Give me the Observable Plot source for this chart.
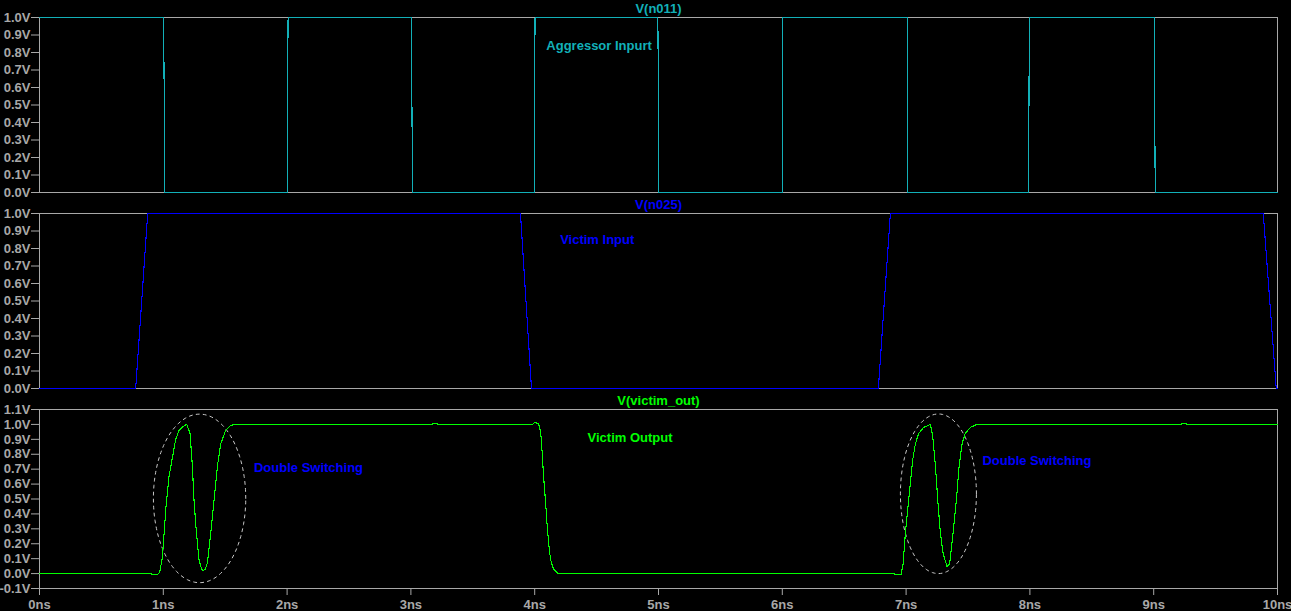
<!DOCTYPE html>
<html><head><meta charset="utf-8">
<script src="https://cdn.jsdelivr.net/npm/d3@7"></script>
<script src="https://cdn.jsdelivr.net/npm/@observablehq/plot@0.6"></script>
<style>
html,body{margin:0;padding:0;background:#000;}
body{width:1291px;height:611px;overflow:hidden;position:relative;}
.pane{position:absolute;left:0;}
.pane svg{overflow:visible;}
</style></head><body>
<div id="p1" class="pane" style="top:0px"></div>
<div id="p2" class="pane" style="top:196px"></div>
<div id="p3" class="pane" style="top:392px"></div>
<script>
// ---- data ----
const paneTitles = ["V(n011)", "V(n025)", "V(victim_out)"];
const traceColors = ["#12b0b8", "#0000ff", "#00ff00"];

// Aggressor input V(n011): time (ns), voltage (V)
const aggT = [0, 1.003, 1.012, 2.0, 2.008, 3.005, 3.012, 3.995, 4.003, 4.995, 5.003, 6.0, 6.005, 7.01, 7.015, 7.99, 7.995, 9.005, 9.012, 10];
const aggV = [1, 1, 0, 0, 1, 1, 0, 0, 1, 1, 0, 0, 1, 1, 0, 0, 1, 1, 0, 0];

// Victim input V(n025)
const vinT = [0, 0.777, 0.874, 3.885, 3.974, 6.776, 6.873, 9.885, 9.99, 10];
const vinV = [0, 0, 1, 1, 0, 0, 1, 1, 0, 0];

// Victim output V(victim_out)
const voutT = [0, 0.9, 0.91, 0.955, 0.971, 0.993, 1.02, 1.046, 1.074, 1.1, 1.127, 1.167, 1.189, 1.216, 1.235, 1.248, 1.268, 1.289, 1.31, 1.324, 1.34, 1.356, 1.383, 1.41, 1.437, 1.464, 1.504, 1.545, 1.6,
  3.15, 3.2, 3.25, 3.3, 3.98, 4.0, 4.03, 4.042, 4.053, 4.066, 4.077, 4.088, 4.098, 4.109, 4.12, 4.13, 4.15, 4.182, 4.195,
  6.9, 6.912, 6.959, 6.976, 6.994, 7.013, 7.035, 7.053, 7.075, 7.102, 7.142, 7.196, 7.215, 7.237, 7.256, 7.277, 7.299, 7.331, 7.352, 7.379, 7.406, 7.428, 7.452, 7.478, 7.519, 7.573,
  9.2, 9.25, 9.3, 9.35, 10];
const voutV = [0, 0, -0.006, -0.006, 0.01, 0.11, 0.43, 0.65, 0.78, 0.9, 0.96, 0.99, 1.0, 0.94, 0.72, 0.49, 0.27, 0.09, 0.03, 0.02, 0.03, 0.07, 0.27, 0.49, 0.72, 0.87, 0.96, 0.995, 1.0,
  1.0, 1.005, 0.997, 1.0, 1.0, 1.012, 1.006, 0.97, 0.91, 0.73, 0.59, 0.48, 0.35, 0.24, 0.145, 0.09, 0.034, 0.004, 0,
  0, -0.006, -0.006, 0.067, 0.27, 0.43, 0.61, 0.76, 0.87, 0.94, 0.98, 1.0, 0.92, 0.72, 0.49, 0.27, 0.135, 0.045, 0.067, 0.27, 0.49, 0.72, 0.87, 0.94, 0.98, 1.0,
  1.0, 1.005, 0.997, 1.0, 1.0];

// axis ticks
const xTicks = [0,1,2,3,4,5,6,7,8,9,10];
const yTicks01 = [0,0.1,0.2,0.3,0.4,0.5,0.6,0.7,0.8,0.9,1.0];
const yTicks3 = [-0.1,0,0.1,0.2,0.3,0.4,0.5,0.6,0.7,0.8,0.9,1.0,1.1];

// annotation ellipses (double switching), center and radii in data units
const ellCenterT = [1.293, 7.261];
const ellCenterV = [0.504, 0.535];
const ellRadT = [0.373, 0.307];
const ellRadV = [0.565, 0.535];

// ---- build ----
const toRows = (T, V) => T.map((t, i) => ({t, v: V[i]}));
const gray = "#a8a8a8";
const font = "'Liberation Sans', Arial, sans-serif";
const fmtV = d => (Math.abs(d) < 1e-9 ? 0 : d).toFixed(1) + "V";

function pane({rows, color, title, yDomain, yTicks, xAxis, height, marginBottom, extra}) {
  return Plot.plot({
    width: 1291,
    height,
    marginLeft: 39,
    marginRight: 14,
    marginTop: 17,
    marginBottom,
    style: {background: "transparent", color: gray, fontFamily: font, fontSize: "13px", fontWeight: "bold", overflow: "visible"},
    x: xAxis
      ? {domain: [0, 10], ticks: xTicks, tickFormat: d => d + "ns", tickSize: 7, tickPadding: 4, label: null}
      : {domain: [0, 10], axis: null},
    y: {domain: yDomain, ticks: yTicks, tickFormat: fmtV, tickSize: 8, tickPadding: 1, label: null},
    marks: [
      Plot.frame({stroke: gray, strokeWidth: 1}),
      ...(extra || []),
      Plot.line(rows, {x: "t", y: "v", stroke: color, strokeWidth: 1.1, shapeRendering: "crispEdges"}),
      Plot.text([title], {frameAnchor: "top", lineAnchor: "middle", dy: -9, text: d => d, fill: color, fontSize: 13, fontWeight: "bold"})
    ]
  });
}

const p1 = pane({
  rows: toRows(aggT, aggV), color: traceColors[0], title: paneTitles[0],
  yDomain: [0, 1], yTicks: yTicks01, xAxis: false, height: 195, marginBottom: 3,
  extra: [Plot.text(["Aggressor Inpurt"], {x: 4.52, y: 0.839, text: d => d, fill: traceColors[0], fontSize: 13, fontWeight: "bold"})]
});
const p2 = pane({
  rows: toRows(vinT, vinV), color: traceColors[1], title: paneTitles[1],
  yDomain: [0, 1], yTicks: yTicks01, xAxis: false, height: 195, marginBottom: 3,
  extra: [Plot.text(["Victim Input"], {x: 4.505, y: 0.851, text: d => d, fill: traceColors[1], fontSize: 13, fontWeight: "bold"})]
});

const ellRows = [];
ellCenterT.forEach((ct, k) => {
  for (let i = 0; i <= 120; i++) {
    const a = (i / 120) * 2 * Math.PI;
    ellRows.push({k, t: ct + ellRadT[k] * Math.cos(a), v: ellCenterV[k] + ellRadV[k] * Math.sin(a)});
  }
});

const p3 = pane({
  rows: toRows(voutT, voutV), color: traceColors[2], title: paneTitles[2],
  yDomain: [-0.1, 1.1], yTicks: yTicks3, xAxis: true, height: 219, marginBottom: 23,
  extra: [
    Plot.line(ellRows, {x: "t", y: "v", z: "k", stroke: "#c8c8c8", strokeWidth: 1, strokeDasharray: "3,4"}),
    Plot.text(["Victim Output"], {x: 4.77, y: 0.91, text: d => d, fill: traceColors[2], fontSize: 13, fontWeight: "bold"}),
    Plot.text(["Double Switching", "Double Switching"], {x: [2.173, 8.057], y: [0.708, 0.755], text: d => d, fill: traceColors[1], fontSize: 13, fontWeight: "bold"})
  ]
});

document.getElementById("p1").appendChild(p1);
document.getElementById("p2").appendChild(p2);
document.getElementById("p3").appendChild(p3);
</script>
</body></html>
